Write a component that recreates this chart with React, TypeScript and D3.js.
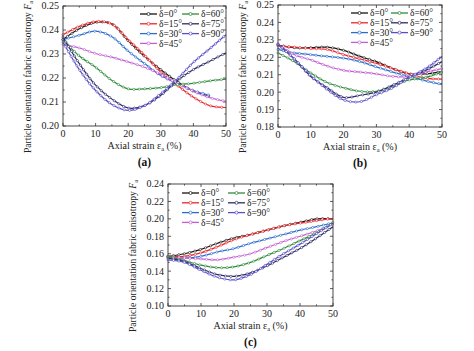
import * as d3 from "d3";
import React, { useRef, useEffect } from "react";

const strain = [0, 5, 10, 15, 20, 25, 30, 35, 40, 45, 50];
const deltas = ["0", "15", "30", "45", "60", "75", "90"];
const colors = ["#151515", "#e8262a", "#2a6ccc", "#c35fd4", "#2e8b3a", "#2b2b66", "#5a4ec6"];

// panel (a)
const aDelta0 = [0.236, 0.2405, 0.2432, 0.2425, 0.2355, 0.229, 0.2235, 0.2185, 0.2145, 0.2125, null];
const aDelta15 = [0.238, 0.2415, 0.2435, 0.2425, 0.236, 0.2295, 0.2225, 0.217, 0.212, 0.2085, 0.2077];
const aDelta30 = [0.236, 0.2378, 0.2395, 0.2372, 0.2312, 0.226, 0.221, 0.2178, 0.2148, 0.2128, null];
const aDelta45 = [0.234, 0.2325, 0.2302, 0.2287, 0.2267, 0.2245, 0.2215, 0.2178, 0.2145, 0.2118, 0.2103];
const aDelta60 = [0.236, 0.2292, 0.2245, 0.219, 0.2155, 0.2155, 0.216, 0.2172, 0.2178, 0.2188, 0.2195];
const aDelta75 = [0.237, 0.226, 0.217, 0.2112, 0.2075, 0.2085, 0.2128, 0.2188, 0.2235, 0.227, 0.2305];
const aDelta90 = [0.235, 0.2235, 0.2148, 0.209, 0.2065, 0.2085, 0.2135, 0.2195, 0.2265, 0.2322, 0.238];

// panel (b)
const bDelta0 = [0.227, 0.2255, 0.2255, 0.2258, 0.224, 0.2205, 0.2175, 0.2135, 0.2105, 0.2105, 0.2118];
const bDelta15 = [0.2265, 0.2258, 0.225, 0.2245, 0.2215, 0.219, 0.2165, 0.2135, 0.2105, 0.208, 0.2075];
const bDelta30 = [0.2245, 0.2225, 0.2215, 0.2205, 0.2195, 0.2175, 0.2145, 0.2115, 0.209, 0.2065, 0.2045];
const bDelta45 = [0.2275, 0.2215, 0.2185, 0.215, 0.2125, 0.2115, 0.2105, 0.209, 0.209, 0.2115, 0.2135];
const bDelta60 = [0.2225, 0.2175, 0.211, 0.2055, 0.2025, 0.2005, 0.2005, 0.2035, 0.207, 0.2085, 0.2115];
const bDelta75 = [0.2275, 0.219, 0.209, 0.2025, 0.197, 0.1982, 0.2, 0.204, 0.2085, 0.2125, 0.2175];
const bDelta90 = [0.2275, 0.219, 0.2095, 0.2015, 0.1955, 0.1945, 0.1985, 0.2025, 0.2085, 0.2135, 0.2205];

// panel (c)
const cDelta0 = [0.157, 0.16, 0.165, 0.172, 0.178, 0.182, 0.187, 0.192, 0.196, 0.2, 0.2];
const cDelta15 = [0.157, 0.157, 0.161, 0.168, 0.176, 0.182, 0.187, 0.192, 0.195, 0.198, 0.2005];
const cDelta30 = [0.156, 0.155, 0.157, 0.162, 0.166, 0.172, 0.177, 0.182, 0.187, 0.191, 0.1955];
const cDelta45 = [0.156, 0.155, 0.154, 0.153, 0.156, 0.16, 0.167, 0.174, 0.18, 0.186, 0.194];
const cDelta60 = [0.157, 0.152, 0.147, 0.144, 0.145, 0.15, 0.158, 0.166, 0.175, 0.184, 0.196];
const cDelta75 = [0.155, 0.151, 0.143, 0.136, 0.134, 0.138, 0.146, 0.156, 0.166, 0.178, 0.191];
const cDelta90 = [0.153, 0.15, 0.141, 0.133, 0.13, 0.136, 0.148, 0.16, 0.171, 0.183, 0.195];

const xTicks = [0, 10, 20, 30, 40, 50];
const abTicks = [0.2, 0.21, 0.22, 0.23, 0.24, 0.25];
const bTicks = [0.18, 0.19, 0.2, 0.21, 0.22, 0.23, 0.24, 0.25];
const cTicks = [0.1, 0.12, 0.14, 0.16, 0.18, 0.2, 0.22, 0.24];

const panels = [
  { tag: "(a)", series: [aDelta0, aDelta15, aDelta30, aDelta45, aDelta60, aDelta75, aDelta90],
    yDomain: [0.2, 0.25], yTicks: abTicks, box: { l: 63, r: 226, t: 6, b: 126 }, legend: { x: 140, y: 14, dx: 42 } },
  { tag: "(b)", series: [bDelta0, bDelta15, bDelta30, bDelta45, bDelta60, bDelta75, bDelta90],
    yDomain: [0.18, 0.25], yTicks: bTicks, box: { l: 278, r: 442, t: 5, b: 127 }, legend: { x: 351, y: 13, dx: 40 } },
  { tag: "(c)", series: [cDelta0, cDelta15, cDelta30, cDelta45, cDelta60, cDelta75, cDelta90],
    yDomain: [0.1, 0.24], yTicks: cTicks, box: { l: 168, r: 333, t: 184, b: 306 }, legend: { x: 182, y: 193, dx: 46 } },
];

const font = "'Liberation Serif', 'DejaVu Serif', serif";

const App: React.FC = () => {
  const svgRef = useRef<SVGSVGElement | null>(null);

  useEffect(() => {
    const svg = d3.select(svgRef.current).html("");

    panels.forEach(p => {
      const { l, r, t, b } = p.box;
      const x = d3.scaleLinear().domain([0, 50]).range([l, r]);
      const y = d3.scaleLinear().domain(p.yDomain).range([b, t]);
      const g = svg.append("g");
      const yStep = p.yTicks[1] - p.yTicks[0];

      // minor ticks
      const xMinor = d3.range(5, 50, 10);
      const yMinor = p.yTicks.slice(0, -1).map(v => v + yStep / 2);

      const tickG = g.append("g").attr("stroke", "#333").attr("stroke-width", 0.8);
      xTicks.forEach(v => {
        tickG.append("line").attr("x1", x(v)).attr("x2", x(v)).attr("y1", b).attr("y2", b - 3);
        tickG.append("line").attr("x1", x(v)).attr("x2", x(v)).attr("y1", t).attr("y2", t + 3);
      });
      xMinor.forEach(v => {
        tickG.append("line").attr("x1", x(v)).attr("x2", x(v)).attr("y1", b).attr("y2", b - 1.6);
        tickG.append("line").attr("x1", x(v)).attr("x2", x(v)).attr("y1", t).attr("y2", t + 1.6);
      });
      p.yTicks.forEach(v => {
        tickG.append("line").attr("x1", l).attr("x2", l + 3).attr("y1", y(v)).attr("y2", y(v));
        tickG.append("line").attr("x1", r).attr("x2", r - 3).attr("y1", y(v)).attr("y2", y(v));
      });
      yMinor.forEach(v => {
        tickG.append("line").attr("x1", l).attr("x2", l + 1.6).attr("y1", y(v)).attr("y2", y(v));
        tickG.append("line").attr("x1", r).attr("x2", r - 1.6).attr("y1", y(v)).attr("y2", y(v));
      });

      // tick labels
      g.selectAll(".xl").data(xTicks).enter().append("text")
        .attr("x", d => x(d)).attr("y", b + 10.5)
        .attr("text-anchor", "middle").style("font-family", font).style("font-size", "10px").attr("fill", "#222")
        .text(d => d);
      g.selectAll(".yl").data(p.yTicks).enter().append("text")
        .attr("x", l - 4).attr("y", d => y(d) + 3.4)
        .attr("text-anchor", "end").style("font-family", font).style("font-size", "10px").attr("fill", "#222")
        .text(d => d3.format(".2f")(d));

      // series
      const line = d3.line<number | null>()
        .defined(d => d != null)
        .x((_, i) => x(strain[i]))
        .y(d => y(d as number))
        .curve(d3.curveCatmullRom);

      p.series.forEach((vals, si) => {
        const path = g.append("path")
          .attr("d", line(vals))
          .attr("fill", "none")
          .attr("stroke", colors[si])
          .attr("stroke-width", 1.2);
        const node = path.node() as SVGPathElement;
        const len = node.getTotalLength();
        const pts = d3.range(0, len, 5.5).map(s => node.getPointAtLength(s));
        g.append("g").selectAll("circle").data(pts).enter().append("circle")
          .attr("cx", d => d.x).attr("cy", d => d.y).attr("r", 1.1)
          .attr("fill", "white").attr("stroke", colors[si]).attr("stroke-width", 0.6);
      });

      // frame
      g.append("rect").attr("x", l).attr("y", t).attr("width", r - l).attr("height", b - t)
        .attr("fill", "none").attr("stroke", "#333").attr("stroke-width", 0.9);

      // legend
      const lg = g.append("g");
      deltas.forEach((d, i) => {
        const col = i < 4 ? 0 : 1;
        const row = i < 4 ? i : i - 4;
        const lx = p.legend.x + col * p.legend.dx;
        const ly = p.legend.y + row * 9.8;
        lg.append("line").attr("x1", lx).attr("x2", lx + 17).attr("y1", ly).attr("y2", ly)
          .attr("stroke", colors[i]).attr("stroke-width", 1.3);
        lg.append("circle").attr("cx", lx + 8.5).attr("cy", ly).attr("r", 1.5)
          .attr("fill", "white").attr("stroke", colors[i]).attr("stroke-width", 0.7);
        lg.append("text").attr("x", lx + 19).attr("y", ly + 3.3)
          .style("font-family", font).style("font-size", "9.5px").attr("fill", "#222")
          .text(`δ=${d}°`);
      });

      // axis titles
      const cx = (l + r) / 2;
      const xt = g.append("text").attr("x", cx).attr("y", b + 23).attr("text-anchor", "middle")
        .style("font-family", font).style("font-size", "10px").attr("fill", "#222");
      xt.append("tspan").text("Axial strain ε");
      xt.append("tspan").attr("dy", 2).style("font-size", "6.5px").text("a");
      xt.append("tspan").attr("dy", -2).text(" (%)");

      const cy = (t + b) / 2 + 11;
      const yt = g.append("text").attr("transform", `translate(${l - 32},${cy}) rotate(-90)`)
        .attr("text-anchor", "middle")
        .style("font-family", font).style("font-size", "9.6px").attr("fill", "#222");
      yt.append("tspan").text("Particle orientation fabric anisotropy ");
      yt.append("tspan").style("font-style", "italic").text("F");
      yt.append("tspan").attr("dy", 2).style("font-size", "6.5px").text("a");

      g.append("text").attr("x", cx).attr("y", b + 40).attr("text-anchor", "middle")
        .style("font-family", font).style("font-size", "11.5px").style("font-weight", "bold").attr("fill", "#111")
        .text(p.tag);
    });
  }, []);

  return (
    <svg ref={svgRef} width={474} height={351}
      style={{ position: "absolute", left: 0, top: 0, background: "white" }} />
  );
};

export default App;
